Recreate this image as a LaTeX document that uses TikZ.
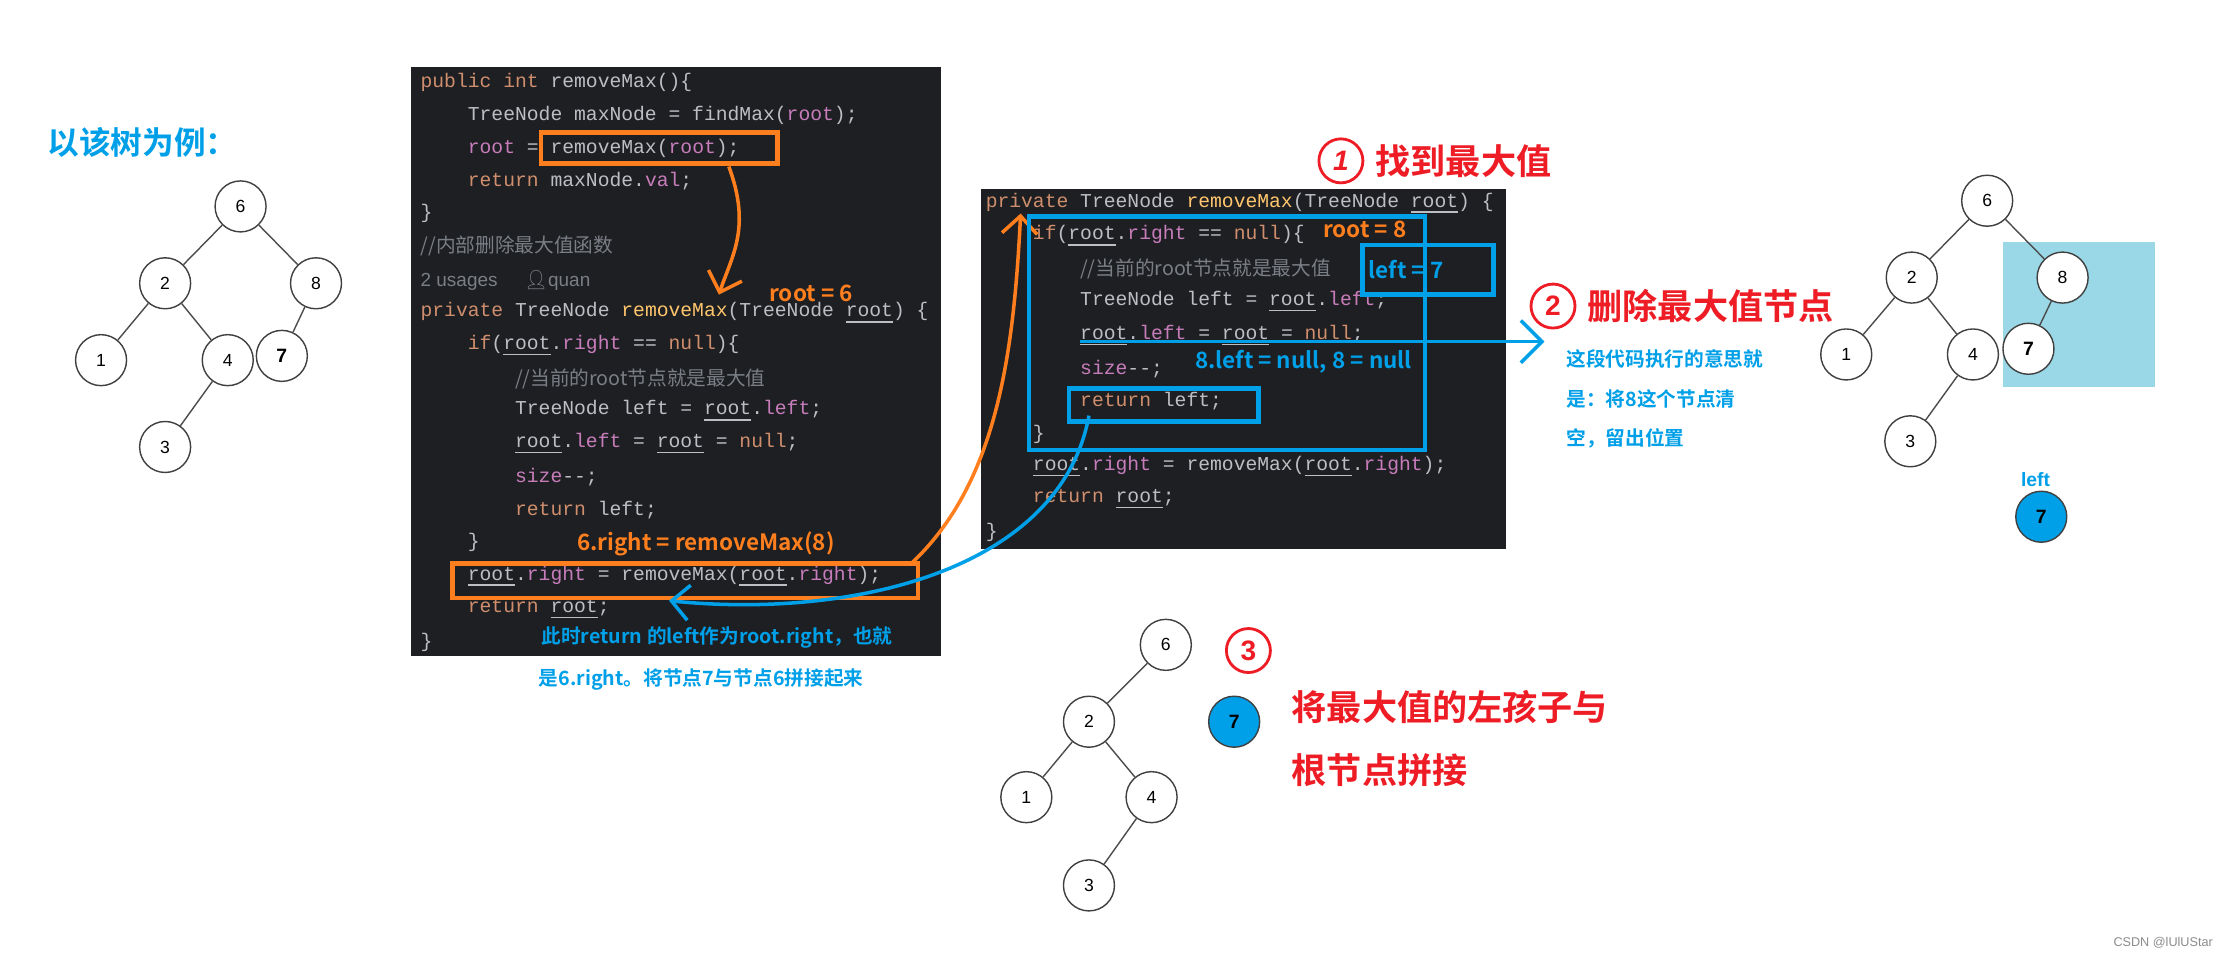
\documentclass[tikz,border=0pt]{standalone}
\usepackage{fontspec}
\setmainfont{Liberation Sans}
\setmonofont{Liberation Mono}
\newfontfamily\cjk{Noto Sans CJK SC}
\newfontfamily\cjkb{Noto Sans CJK SC Bold}
\newfontfamily\emo{Noto Emoji}
\usetikzlibrary{positioning,arrows.meta}
\definecolor{codebg}{HTML}{1E1F22}
\definecolor{codetxt}{HTML}{BCBEC4}
\definecolor{kwc}{HTML}{CF8E6D}
\definecolor{fldc}{HTML}{C77DBB}
\definecolor{fnc}{HTML}{FFC66D}
\definecolor{cmc}{HTML}{7A7E85}
\definecolor{annoblue}{HTML}{00A0E9}
\definecolor{annoorange}{HTML}{FF7F1F}
\definecolor{annored}{HTML}{EE1C25}
\definecolor{boxcyan}{HTML}{9AD8E8}
\newcommand{\kw}[1]{\textcolor{kwc}{#1}}
\newcommand{\fld}[1]{\textcolor{fldc}{#1}}
\newcommand{\fn}[1]{\textcolor{fnc}{#1}}
\newcommand{\cmt}[1]{\textcolor{cmc}{{\cjk #1}}}
\newcommand{\ur}{\underline{root}}
\tikzset{
  codeline/.style={anchor=west, inner sep=0pt, text=codetxt, font=\ttfamily\fontsize{5.6pt}{6pt}\selectfont},
  tnode/.style={circle, draw=black!75, fill=white, minimum size=0.51cm, inner sep=0pt, font=\fontsize{5pt}{6pt}\selectfont},
  tedge/.style={draw=black!70, thin},
  anno/.style={inner sep=0pt, font=\cjkb\fontsize{6.4pt}{7pt}\selectfont},
  note/.style={anchor=west, inner sep=0pt, text=annoblue, font=\cjkb\fontsize{5.6pt}{7pt}\selectfont},
  head/.style={anchor=west, inner sep=0pt, text=annored, font=\cjkb\fontsize{10pt}{11pt}\selectfont},
  circnum/.style={circle, draw=annored, thick, text=annored, minimum size=0.44cm, inner sep=0pt, font=\bfseries\fontsize{8pt}{9pt}\selectfont},
}
\begin{document}
\begin{tikzpicture}[x=0.014235cm, y=-0.014235cm]
  \useasboundingbox[fill=white] (0,0) rectangle (1568,673);

  % title
  \node[anchor=west, inner sep=0pt, text=annoblue, font=\cjkb\fontsize{9pt}{10pt}\selectfont] (title) at (33,100) {以该树为例：};

  % tree 1
  \node[tnode] (a6) at (169,145) {6};
  \node[tnode] (a2) at (116,199) {2};
  \node[tnode] (a8) at (222,199) {8};
  \node[tnode] (a1) at (71,253) {1};
  \node[tnode] (a4) at (160,253) {4};
  \node[tnode] (a3) at (116,314) {3};
  \node[tnode, font=\bfseries\fontsize{5.5pt}{6pt}\selectfont] (a7) at (198,250) {7};
  \draw[tedge] (a6) -- (a2) (a6) -- (a8) (a2) -- (a1) (a2) -- (a4) (a4) -- (a3);
  \draw[tedge] (a8) -- (a7);

  % code panel 1
  \fill[codebg] (289,47) rectangle (661,461);
  \node[codeline] (p1) at (295,58)  {\kw{public int} removeMax()\{};
  \node[codeline] (p2) at (295,81)  {\ \ \ \ TreeNode maxNode = findMax(\fld{root});};
  \node[codeline] (p3) at (295,104) {\ \ \ \ \fld{root} = removeMax(\fld{root});};
  \node[codeline] (p4) at (295,127) {\ \ \ \ \kw{return} maxNode.\fld{val};};
  \node[codeline] (p5) at (295,150) {\}};
  \node[codeline] (p6) at (295,173) {\cmt{//内部删除最大值函数}};
  \node[codeline, text=cmc, font=\fontsize{5.4pt}{6pt}\selectfont] (p7) at (295,197) {2 usages \ \ \ \ {\emo 👤}quan};
  \node[codeline] (p8) at (295,220) {\kw{private} TreeNode \fn{removeMax}(TreeNode \ur) \{};
  \node[codeline] (p9) at (295,243) {\ \ \ \ \kw{if}(\ur.\fld{right} == \kw{null})\{};
  \node[codeline] (p10) at (295,266) {\ \ \ \ \ \ \ \ \cmt{//当前的root节点就是最大值}};
  \node[codeline] (p11) at (295,289) {\ \ \ \ \ \ \ \ TreeNode left = \ur.\fld{left};};
  \node[codeline] (p12) at (295,312) {\ \ \ \ \ \ \ \ \ur.\fld{left} = \ur{} = \kw{null};};
  \node[codeline] (p13) at (295,335) {\ \ \ \ \ \ \ \ \fld{size}--;};
  \node[codeline] (p14) at (295,358) {\ \ \ \ \ \ \ \ \kw{return} left;};
  \node[codeline] (p15) at (295,381) {\ \ \ \ \}};
  \node[codeline] (p16) at (295,405) {\ \ \ \ \ur.\fld{right} = removeMax(\ur.\fld{right});};
  \node[codeline] (p17) at (295,428) {\ \ \ \ \kw{return} \ur;};
  \node[codeline] (p18) at (295,451) {\}};

  % code panel 2
  \fill[codebg] (689,133) rectangle (1058,386);
  \node[codeline] (q1) at (692,143) {\kw{private} TreeNode \fn{removeMax}(TreeNode \ur) \{};
  \node[codeline] (q2) at (692,166) {\ \ \ \ \kw{if}(\ur.\fld{right} == \kw{null})\{};
  \node[codeline] (q3) at (692,189) {\ \ \ \ \ \ \ \ \cmt{//当前的root节点就是最大值}};
  \node[codeline] (q4) at (692,212) {\ \ \ \ \ \ \ \ TreeNode left = \ur.\fld{left};};
  \node[codeline] (q5) at (692,236) {\ \ \ \ \ \ \ \ \ur.\fld{left} = \ur{} = \kw{null};};
  \node[codeline] (q6) at (692,259) {\ \ \ \ \ \ \ \ \fld{size}--;};
  \node[codeline] (q7) at (692,282) {\ \ \ \ \ \ \ \ \kw{return} left;};
  \node[codeline] (q8) at (692,305) {\ \ \ \ \}};
  \node[codeline] (q9) at (692,328) {\ \ \ \ \ur.\fld{right} = removeMax(\ur.\fld{right});};
  \node[codeline] (q10) at (692,351) {\ \ \ \ \kw{return} \ur;};
  \node[codeline] (q11) at (692,374) {\}};

  % orange marks
  \draw[annoorange, line width=1.3pt] (380,93) rectangle (546,115);
  \draw[annoorange, line width=1.3pt] (318,396) rectangle (645,420);
  \coordinate (o1) at (512,117);
  \coordinate (o2) at (505,207);
  \draw[annoorange, line width=1pt, -{Straight Barb[length=5pt]}] (o1) .. controls (528,160) and (514,180) .. (o2);
  \node[anno, text=annoorange, anchor=west] (rt6) at (540,206) {root = 6};
  \node[anno, text=annoorange, anchor=west] (rm8) at (405,382) {6.right = removeMax(8)};
  \coordinate (o3) at (640,396);
  \coordinate (o4) at (717,150);
  \draw[annoorange, line width=1pt, -{Straight Barb[length=5pt]}] (o3) .. controls (700,340) and (712,250) .. (o4);

  % blue marks
  \draw[annoblue, line width=1.3pt] (723,152) rectangle (1001,316);
  \draw[annoblue, line width=1.3pt] (957,172) rectangle (1049,207);
  \draw[annoblue, line width=1.3pt] (751,273) rectangle (884,296);
  \node[anno, text=annoorange, anchor=west] (rt8) at (929,161) {root = 8};
  \node[anno, text=annoblue, anchor=west] (lf7) at (961,189) {left = 7};
  \node[anno, text=annoblue, anchor=west] (nul) at (839,254) {8.left = null, 8 = null};
  \coordinate (b1) at (759,240);
  \coordinate (b2) at (1085,240);
  \draw[annoblue, line width=1pt, -{Straight Barb[length=6pt]}] (b1) -- (b2);
  \coordinate (b3) at (765,292);
  \coordinate (b4) at (470,422);
  \draw[annoblue, line width=1pt, -{Straight Barb[length=5pt]}] (b3) .. controls (745,400) and (600,435) .. (b4);
  \node[note] (n1) at (380,448) {此时return 的left作为root.right，也就};
  \node[note] (n2) at (378,477) {是6.right。将节点7与节点6拼接起来};

  % headings
  \node[circnum] (c1) at (942,113) {\itshape 1};
  \node[head, right=3pt of c1] (h1) {找到最大值};
  \node[circnum] (c2) at (1091,215) {2};
  \node[head, right=3pt of c2] (h2) {删除最大值节点};
  \node[note] (m1) at (1100,252) {这段代码执行的意思就};
  \node[note] (m2) at (1100,280) {是：将8这个节点清};
  \node[note] (m3) at (1100,308) {空，留出位置};
  \node[circnum] (c3) at (877,457) {3};
  \node[head] (h3) at (907,497) {将最大值的左孩子与};
  \node[head] (h4) at (907,541) {根节点拼接};

  % tree 2
  \fill[boxcyan] (1407,170) rectangle (1514,272);
  \node[tnode] (b6n) at (1396,141) {6};
  \node[tnode] (b2n) at (1343,195) {2};
  \node[tnode] (b8n) at (1449,195) {8};
  \node[tnode] (b1n) at (1297,249) {1};
  \node[tnode] (b4n) at (1386,249) {4};
  \node[tnode] (b3n) at (1342,310) {3};
  \node[tnode, font=\bfseries\fontsize{5.5pt}{6pt}\selectfont] (b7n) at (1425,245) {7};
  \draw[tedge] (b6n) -- (b2n) (b6n) -- (b8n) (b2n) -- (b1n) (b2n) -- (b4n) (b4n) -- (b3n) (b8n) -- (b7n);
  \node[anno, text=annoblue, font=\bfseries\fontsize{5.5pt}{6pt}\selectfont] (lft) at (1430,337) {left};
  \node[tnode, fill=annoblue, font=\bfseries\fontsize{5.5pt}{6pt}\selectfont] (l7) at (1434,363) {7};

  % tree 3
  \node[tnode] (d6) at (819,453) {6};
  \node[tnode] (d2) at (765,507) {2};
  \node[tnode, fill=annoblue, font=\bfseries\fontsize{5.5pt}{6pt}\selectfont] (d7) at (867,507) {7};
  \node[tnode] (d1) at (721,560) {1};
  \node[tnode] (d4) at (809,560) {4};
  \node[tnode] (d3) at (765,622) {3};
  \draw[tedge] (d6) -- (d2) (d2) -- (d1) (d2) -- (d4) (d4) -- (d3);

  \node[anchor=east, inner sep=0pt, text=black!45, font=\fontsize{3.6pt}{4pt}\selectfont] (csdn) at (1555,662) {CSDN @lUlUStar};
\end{tikzpicture}
\end{document}
